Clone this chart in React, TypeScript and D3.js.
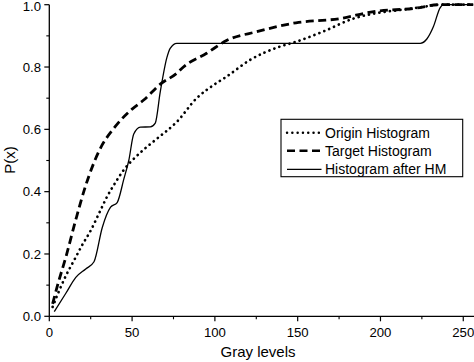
import React from "react";
import * as d3 from "d3";

const xTicks = [0, 50, 100, 150, 200, 250];
const xMinor = [25, 75, 125, 175, 225];
const yTicks = [0, 0.2, 0.4, 0.6, 0.8, 1.0];
const yMinor = [0.1, 0.3, 0.5, 0.7, 0.9];

const originX = [2, 5, 10, 15, 20, 25, 30, 35, 40, 45, 50, 57, 65, 77, 89, 100, 107, 121, 139, 149, 165, 184, 200, 215, 228, 235, 256];
const originY = [0.03, 0.07, 0.13, 0.18, 0.23, 0.275, 0.33, 0.385, 0.43, 0.47, 0.5, 0.535, 0.57, 0.624, 0.7, 0.745, 0.769, 0.822, 0.865, 0.881, 0.913, 0.956, 0.975, 0.985, 0.995, 1.0, 1.0];

const targetX = [2, 5, 10, 16, 22, 30, 40, 50, 57, 67, 77, 81, 95, 107, 125, 149, 175, 196, 220, 236, 256];
const targetY = [0.04, 0.1, 0.19, 0.31, 0.42, 0.53, 0.61, 0.665, 0.694, 0.745, 0.78, 0.8, 0.844, 0.885, 0.913, 0.942, 0.955, 0.978, 0.988, 1.0, 1.0];

const afterX = [3, 10, 16, 22, 27, 32, 37, 41, 45, 48, 51, 55, 61, 64, 67, 71, 73, 77, 90, 150, 224, 228, 232, 236, 238, 256];
const afterY = [0.015, 0.074, 0.125, 0.152, 0.175, 0.285, 0.35, 0.365, 0.44, 0.5, 0.585, 0.607, 0.608, 0.62, 0.72, 0.83, 0.86, 0.876, 0.876, 0.876, 0.876, 0.89, 0.93, 0.99, 1.0, 1.0];

const legendLabels = ["Origin Histogram", "Target Histogram", "Histogram after HM"];

const W = 474;
const H = 362;
const x = d3.scaleLinear().domain([0, 256]).range([49.3, 473.2]);
const y = d3.scaleLinear().domain([0, 1]).range([316.3, 4.7]);

const lineGen = d3
  .line<[number, number]>()
  .x((d) => x(d[0]))
  .y((d) => y(d[1]))
  .curve(d3.curveMonotoneX);

const zip = (a: number[], b: number[]) => a.map((v, i) => [v, b[i]] as [number, number]);

const styles = [
  { dash: "0.1 5.2", width: 2.7, cap: "round" as const },
  { dash: "8 4.5", width: 2.8, cap: "butt" as const },
  { dash: undefined, width: 1.3, cap: "butt" as const },
];

export default function App() {
  const series = [zip(originX, originY), zip(targetX, targetY), zip(afterX, afterY)];
  const font = "'Liberation Sans', Arial, sans-serif";
  const x0 = x.range()[0];
  const y0 = y.range()[0];
  return (
    <svg
      width={W}
      height={H}
      style={{ position: "absolute", left: 0, top: 0, background: "#fff" }}
      fontFamily={font}
    >
      {series.map((s, i) => (
        <path
          key={i}
          d={lineGen(s) || ""}
          fill="none"
          stroke="#000"
          strokeWidth={styles[i].width}
          strokeDasharray={styles[i].dash}
          strokeLinecap={styles[i].cap}
        />
      ))}
      <line x1={x0} x2={W} y1={y0} y2={y0} stroke="#000" strokeWidth={1.3} />
      <line x1={x0} x2={x0} y1={y0} y2={y(1)} stroke="#000" strokeWidth={1.3} />
      {xTicks.map((t) => (
        <g key={t}>
          <line x1={x(t)} x2={x(t)} y1={y0} y2={y0 + 5} stroke="#000" strokeWidth={1.2} />
          <text x={x(t)} y={337} textAnchor="middle" fontSize={13.2}>
            {t}
          </text>
        </g>
      ))}
      {xMinor.map((t) => (
        <line key={t} x1={x(t)} x2={x(t)} y1={y0} y2={y0 + 3} stroke="#000" strokeWidth={1.1} />
      ))}
      {yTicks.map((t) => (
        <g key={t}>
          <line x1={x0 - 5} x2={x0} y1={y(t)} y2={y(t)} stroke="#000" strokeWidth={1.2} />
          <text x={41} y={Math.max(y(t) + 4.7, 11)} textAnchor="end" fontSize={13.2}>
            {t.toFixed(1)}
          </text>
        </g>
      ))}
      {yMinor.map((t) => (
        <line key={t} x1={x0 - 3} x2={x0} y1={y(t)} y2={y(t)} stroke="#000" strokeWidth={1.1} />
      ))}
      <text x={258} y={357} textAnchor="middle" fontSize={15}>
        Gray levels
      </text>
      <text transform={`translate(15,160) rotate(-90)`} textAnchor="middle" fontSize={15}>
        P(x)
      </text>
      <rect x={281} y={119.3} width={181.7} height={57.4} fill="#fff" stroke="#000" strokeWidth={1.1} />
      {legendLabels.map((lab, i) => {
        const ly = [132.7, 150.7, 169.3][i];
        return (
          <g key={lab}>
            <line
              x1={287}
              x2={321.5}
              y1={ly}
              y2={ly}
              stroke="#000"
              strokeWidth={styles[i].width * (i === 2 ? 1 : 0.9)}
              strokeDasharray={styles[i].dash}
              strokeLinecap={styles[i].cap}
            />
            <text x={325} y={ly + 5} fontSize={14}>
              {lab}
            </text>
          </g>
        );
      })}
    </svg>
  );
}
